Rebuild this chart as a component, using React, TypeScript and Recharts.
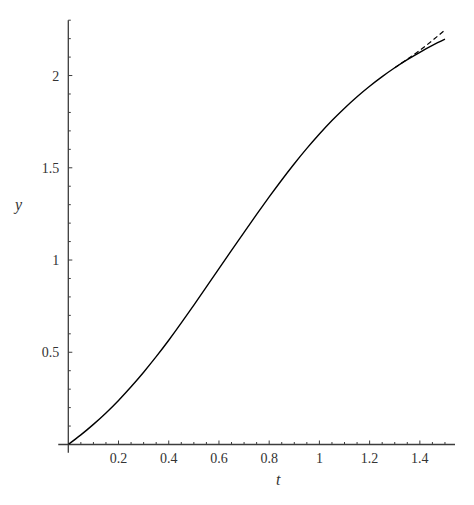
import React from 'react';
import { LineChart, Line, XAxis, YAxis, ReferenceLine } from 'recharts';

// t values (step 0.05) and curve values
const tValues = [
  0, 0.05, 0.1, 0.15, 0.2, 0.25, 0.3, 0.35, 0.4, 0.45, 0.5,
  0.55, 0.6, 0.65, 0.7, 0.75, 0.8, 0.85, 0.9, 0.95, 1.0,
  1.05, 1.1, 1.15, 1.2, 1.25, 1.3, 1.35, 1.4, 1.45, 1.5,
];
const ySolid = [
  0, 0.052, 0.109, 0.171, 0.239, 0.313, 0.392, 0.476, 0.565, 0.659, 0.756,
  0.854, 0.953, 1.052, 1.15, 1.247, 1.342, 1.434, 1.522, 1.605, 1.683,
  1.756, 1.823, 1.885, 1.942, 1.994, 2.042, 2.086, 2.126, 2.163, 2.197,
];
// dashed approximation, only visible where it leaves the solid curve
const yDashed = [
  null, null, null, null, null, null, null, null, null, null, null,
  null, null, null, null, null, null, null, null, null, null,
  null, null, null, null, null, 2.042, 2.089, 2.137, 2.19, 2.247,
];

const xTicks = [
  0.05, 0.1, 0.15, 0.2, 0.25, 0.3, 0.35, 0.4, 0.45, 0.5, 0.55, 0.6, 0.65, 0.7, 0.75,
  0.8, 0.85, 0.9, 0.95, 1, 1.05, 1.1, 1.15, 1.2, 1.25, 1.3, 1.35, 1.4, 1.45, 1.5,
];
const xLabels = ['0.2', '0.4', '0.6', '0.8', '1', '1.2', '1.4'];

const yTicks = [
  0.1, 0.2, 0.3, 0.4, 0.5, 0.6, 0.7, 0.8, 0.9, 1, 1.1, 1.2,
  1.3, 1.4, 1.5, 1.6, 1.7, 1.8, 1.9, 2, 2.1, 2.2, 2.3,
];
const yLabels = ['0.5', '1', '1.5', '2'];

const data = tValues.map((t, i) => ({ t, y: ySolid[i], yd: yDashed[i] }));

document.body.style.margin = '0';

const AXIS = '#3c3c3c';
const FONT = '"Liberation Serif", "DejaVu Serif", serif';

const fmt = (v: number) => String(Math.round(v * 100) / 100);

const XTick = (props: any) => {
  const { x, y, payload } = props;
  const label = fmt(payload.value);
  const major = xLabels.includes(label);
  return (
    <g>
      <line x1={x} x2={x} y1={y} y2={y - (major ? 4 : 2.5)} stroke={AXIS} strokeWidth={1} />
      {major && (
        <text x={x} y={y + 18} textAnchor="middle" fontFamily={FONT} fontSize={14} fill="#333">
          {label}
        </text>
      )}
    </g>
  );
};

const YTick = (props: any) => {
  const { x, y, payload } = props;
  const label = fmt(payload.value);
  const major = yLabels.includes(label);
  return (
    <g>
      <line x1={x} x2={x + (major ? 4 : 2.5)} y1={y} y2={y} stroke={AXIS} strokeWidth={1} />
      {major && (
        <text x={x - 9} y={y + 5} textAnchor="end" fontFamily={FONT} fontSize={14} fill="#333">
          {label}
        </text>
      )}
    </g>
  );
};

export default function App() {
  return (
    <div style={{ position: 'relative', width: 474, height: 505, background: '#fff' }}>
      <LineChart
        width={474}
        height={505}
        data={data}
        margin={{ top: 20.2, right: 19, bottom: 0, left: 0 }}
      >
        <XAxis
          dataKey="t"
          type="number"
          domain={[0, 1.54]}
          ticks={xTicks}
          interval={0}
          axisLine={false}
          tickLine={false}
          tickSize={0}
          tickMargin={0}
          height={60.5}
          tick={<XTick />}
          allowDataOverflow
        />
        <YAxis
          type="number"
          domain={[0, 2.3]}
          ticks={yTicks}
          interval={0}
          axisLine={false}
          tickLine={false}
          tickSize={0}
          tickMargin={0}
          width={68.3}
          tick={<YTick />}
          allowDataOverflow
        />
        <ReferenceLine
          segment={[{ x: -0.04, y: 0 }, { x: 1.54, y: 0 }]}
          stroke={AXIS}
          strokeWidth={1.3}
          ifOverflow="visible"
        />
        <ReferenceLine
          segment={[{ x: 0, y: -0.045 }, { x: 0, y: 2.3 }]}
          stroke={AXIS}
          strokeWidth={1.3}
          ifOverflow="visible"
        />
        <Line
          dataKey="yd"
          type="natural"
          stroke="#000"
          strokeWidth={1.2}
          strokeDasharray="5 3"
          dot={false}
          isAnimationActive={false}
        />
        <Line
          dataKey="y"
          type="natural"
          stroke="#000"
          strokeWidth={1.4}
          dot={false}
          isAnimationActive={false}
        />
      </LineChart>
      <span
        style={{
          position: 'absolute', left: 15, top: 196, fontFamily: FONT,
          fontStyle: 'italic', fontSize: 16, color: '#333',
        }}
      >
        y
      </span>
      <span
        style={{
          position: 'absolute', left: 276, top: 471, fontFamily: FONT,
          fontStyle: 'italic', fontSize: 16, color: '#333',
        }}
      >
        t
      </span>
    </div>
  );
}
